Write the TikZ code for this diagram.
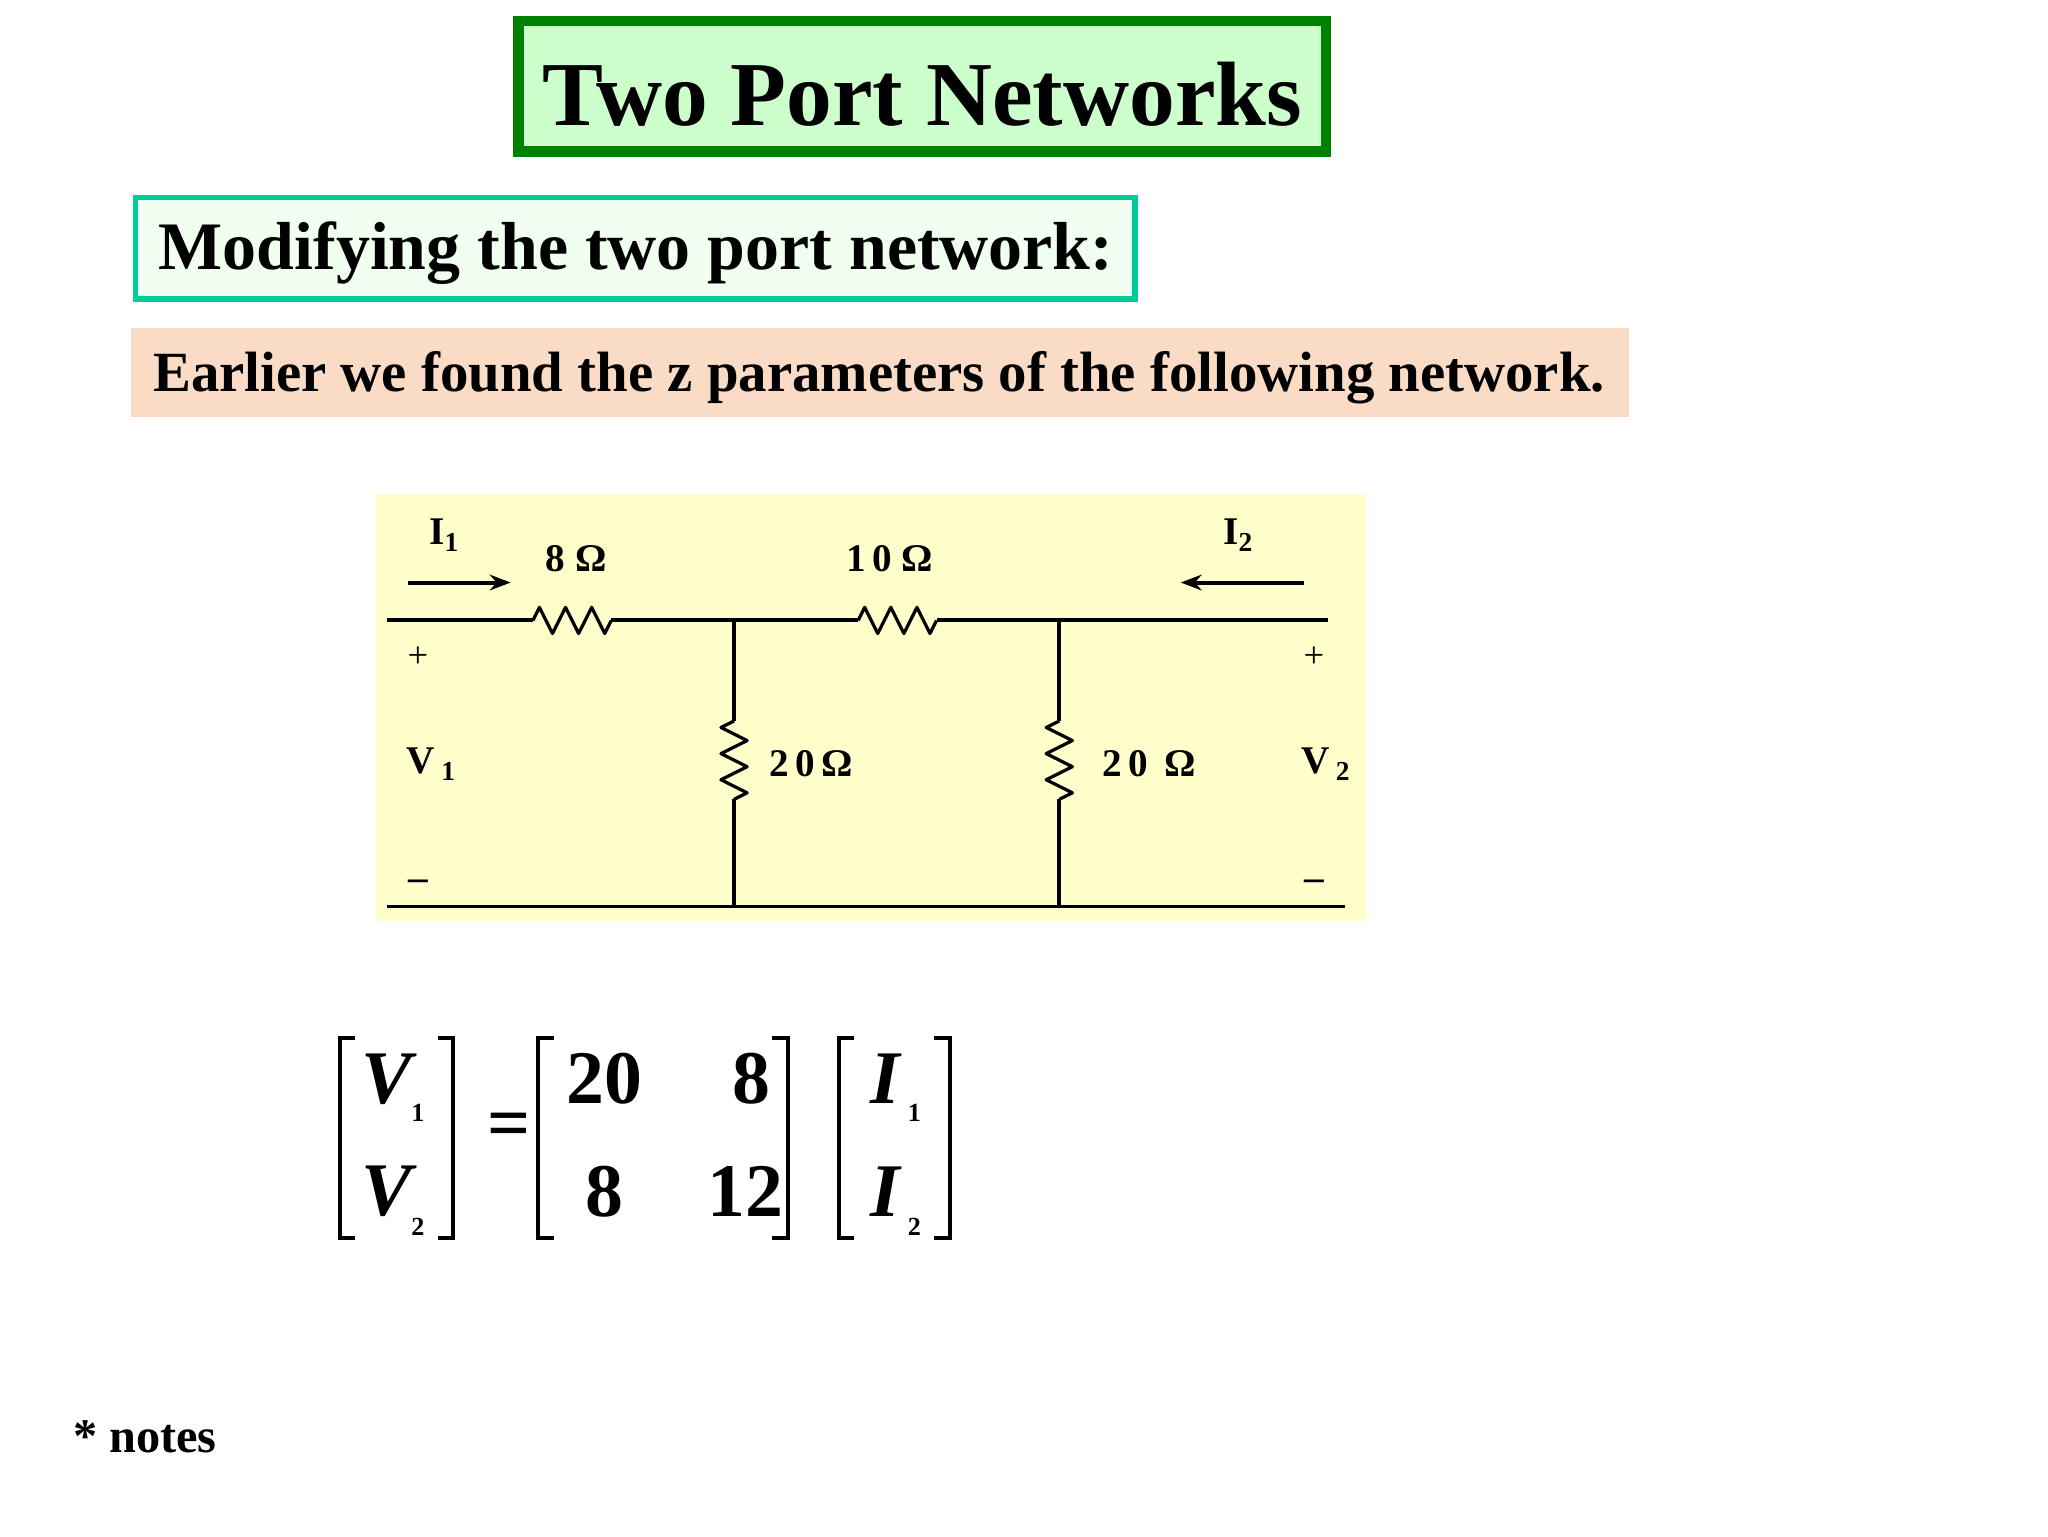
\documentclass[tikz,border=0pt]{standalone}
\usepackage{fontspec}
\usetikzlibrary{arrows.meta}
\setmainfont{Liberation Serif}
\definecolor{tgreen}{RGB}{0,128,0}
\definecolor{tfill}{RGB}{204,255,204}
\definecolor{sborder}{RGB}{0,204,153}
\definecolor{sfill}{RGB}{240,255,240}
\definecolor{peach}{RGB}{250,219,197}
\definecolor{cyel}{RGB}{255,255,204}
\begin{document}
\begin{tikzpicture}[x=1pt,y=-1pt,
  wire/.style={line width=3pt},
  lbl/.style={font=\bfseries\fontsize{30}{34}\selectfont,inner sep=0pt},
  big/.style={font=\bfseries\fontsize{58}{70}\selectfont,inner sep=0pt},
  sub/.style={font=\bfseries\fontsize{20}{22}\selectfont,inner sep=0pt},
  brk/.style={line width=3pt},
  arr/.style={line width=3pt,-{Stealth[length=16pt,width=12pt]}},
  hres/.pic={\draw[line width=2.5pt,line join=round] (0,0)--(5,-10)--(15,10)--(25,-10)--(35,10)--(45,-10)--(55,10)--(60,0);},
  vres/.pic={\draw[line width=2.5pt,line join=round] (0,0)--(-10,5)--(10,15)--(-10,25)--(10,35)--(-10,45)--(10,55)--(0,60);}]
\useasboundingbox[fill=white] (0,0) rectangle (1568,1176);
% title
\draw[draw=tgreen,line width=8pt,fill=tfill] (397,16) rectangle (1015,116);
\node[font=\bfseries\fontsize{70}{76}\selectfont] (title) at (706,72) {Two Port Networks};
\draw[draw=sborder,line width=4pt,fill=sfill] (104,151) rectangle (869,229);
\node[font=\bfseries\fontsize{52}{58}\selectfont] (sub) at (487,194) {Modifying the two port network:};
\fill[peach] (100,251) rectangle (1247,319);
\node[font=\bfseries\fontsize{43.5}{48}\selectfont] (earl) at (673,289) {Earlier we found the z parameters of the following network.};
% circuit
\fill[cyel] (288,378) rectangle (1046,705);
\coordinate (tl) at (296,475); \coordinate (r1a) at (408,475); \coordinate (r1b) at (468,475);
\coordinate (n1) at (562,475); \coordinate (r2a) at (657,475); \coordinate (r2b) at (717,475);
\coordinate (n2) at (811,475); \coordinate (tr) at (1017,475);
\coordinate (bl) at (296,694); \coordinate (br) at (1030,694);
\coordinate (b1) at (562,694); \coordinate (b2) at (811,694);
\draw[wire] (tl)--(r1a) (r1b)--(r2a) (r2b)--(tr) (bl)--(br);
\pic at (r1a) {hres}; \pic at (r2a) {hres};
\draw[wire] (n1)--(562,552) (562,612)--(b1);
\draw[wire] (n2)--(811,552) (811,612)--(b2);
\pic at (562,552) {vres}; \pic at (811,552) {vres};
\coordinate (a1) at (312,446); \coordinate (a1e) at (391,446);
\coordinate (a2) at (998,446); \coordinate (a2e) at (904,446);
\draw[arr] (a1)--(a1e);
\draw[arr] (a2)--(a2e);
\node[lbl] (i1) at (340,410) {I\textsubscript{1}};
\node[lbl] (i2) at (948,410) {I\textsubscript{2}};
\node[lbl] (l8) at (441,428) {8 Ω};
\node[lbl] (l10) at (681,428) {1\,0 Ω};
\node[lbl] (l20a) at (621,585) {2\,0\,Ω};
\node[lbl] (l20b) at (880,585) {2\,0 \,Ω};
\node[lbl,font=\fontsize{28}{30}\selectfont] (p1) at (320,503) {+};
\node[lbl,font=\fontsize{28}{30}\selectfont] (p2) at (1006,503) {+};
\node[lbl] (m1) at (320,678) {–};
\node[lbl] (m2) at (1006,678) {–};
\node[lbl] (v1) at (330,585) {V\,\textsubscript{1}};
\node[lbl] (v2) at (1015,585) {V\,\textsubscript{2}};
% matrix equation
\draw[brk] (272,795)--(260,795)--(260,948)--(272,948);
\draw[brk] (335,795)--(347,795)--(347,948)--(335,948);
\draw[brk] (424,795)--(412,795)--(412,948)--(424,948);
\draw[brk] (591,795)--(603,795)--(603,948)--(591,948);
\draw[brk] (654,795)--(642,795)--(642,948)--(654,948);
\draw[brk] (715,795)--(727,795)--(727,948)--(715,948);
\node[big] (eq) at (390,866) {=};
\node[big] (V1) at (296,826) {\itshape V};
\node[big] (V2) at (296,912) {\itshape V};
\node[sub] at (320,852) {1};
\node[sub] at (320,939) {2};
\node[big] (e11) at (463,826) {20};
\node[big] (e12) at (575,826) {8};
\node[big] (e21) at (463,912) {8};
\node[big] (e22) at (571,912) {12};
\node[big] (I1) at (678,826) {\itshape I};
\node[big] (I2) at (678,912) {\itshape I};
\node[sub] at (700,852) {1};
\node[sub] at (700,939) {2};
\node[font=\bfseries\fontsize{37}{40}\selectfont,inner sep=0pt] (notes) at (111,1100) {* notes};
\end{tikzpicture}
\end{document}
